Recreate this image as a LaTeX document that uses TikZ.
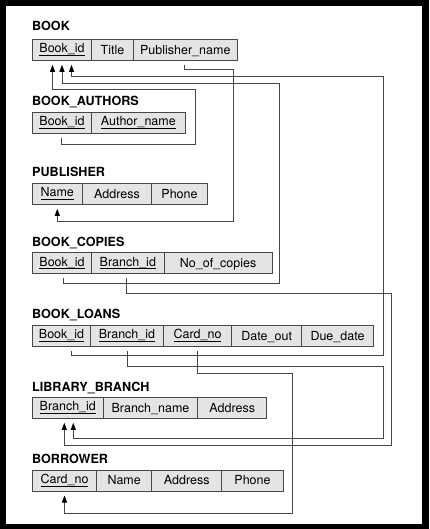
\documentclass[tikz,border=0pt]{standalone}
\usepackage{fontspec}
\setmainfont{TeX Gyre Heros}
\usepackage{tikz}
\usetikzlibrary{positioning,arrows.meta}

\definecolor{cellfill}{HTML}{E4E4E4}
\definecolor{rulegray}{HTML}{474747}

\newcommand{\keyattr}[1]{\raisebox{1.7pt}{\setbox0\hbox{#1}\rlap{\rule[-3pt]{\wd0}{0.6pt}}\box0}}

\tikzset{
  relname/.style={anchor=base west, inner sep=0pt, font=\fontsize{12.6}{15}\selectfont\bfseries},
  attr/.style={draw=rulegray, fill=cellfill, line width=0.8pt, inner sep=0pt, outer sep=0pt,
               minimum height=21pt, text height=8.9pt, text depth=0pt, font=\fontsize{12.5}{15}\selectfont},
  fk/.style={draw=rulegray, line width=0.8pt, shorten <=4.5pt, shorten >=4.5pt,
             -{Triangle[length=7pt,width=5pt,color=black]}}
}

\begin{document}
\begin{tikzpicture}[x=1pt,y=-1pt]
  \fill[black] (0,0) rectangle (429,529);
  \fill[white] (6,6) rectangle (422,524);

  % BOOK
  \node[relname] (bk) at (32,30.7) {BOOK};
  \node[attr, minimum width=59.4pt, anchor=north west] (bk-id) at (32.3,39.3) {\keyattr{Book\_id}};
  \node[attr, minimum width=41.6pt, right=0pt of bk-id] (bk-title) {Title};
  \node[attr, minimum width=104pt, right=0pt of bk-title] (bk-pub) {Publisher\_name};

  % BOOK_AUTHORS
  \node[relname] (ba) at (32,106) {BOOK\_AUTHORS};
  \node[attr, minimum width=59.4pt, anchor=north west] (ba-id) at (32.3,112.3) {\keyattr{Book\_id}};
  \node[attr, minimum width=93.3pt, right=0pt of ba-id] (ba-name) {\keyattr{Author\_name}};

  % PUBLISHER
  \node[relname] (pb) at (32,176.7) {PUBLISHER};
  \node[attr, minimum width=50pt, anchor=north west] (pb-name) at (32.3,183.3) {\keyattr{Name}};
  \node[attr, minimum width=69.4pt, right=0pt of pb-name] (pb-addr) {Address};
  \node[attr, minimum width=55.6pt, right=0pt of pb-addr] (pb-phone) {Phone};

  % BOOK_COPIES
  \node[relname] (bc) at (32,246.7) {BOOK\_COPIES};
  \node[attr, minimum width=59.4pt, anchor=north west] (bc-id) at (32.3,252.8) {\keyattr{Book\_id}};
  \node[attr, minimum width=72.3pt, right=0pt of bc-id] (bc-br) {\keyattr{Branch\_id}};
  \node[attr, minimum width=108.3pt, right=0pt of bc-br] (bc-no) {No\_of\_copies};

  % BOOK_LOANS
  \node[relname] (bl) at (32,318.3) {BOOK\_LOANS};
  \node[attr, minimum width=58.4pt, anchor=north west] (bl-id) at (32.3,325.5) {\keyattr{Book\_id}};
  \node[attr, minimum width=72.6pt, right=0pt of bl-id] (bl-br) {\keyattr{Branch\_id}};
  \node[attr, minimum width=68.4pt, right=0pt of bl-br] (bl-card) {\keyattr{Card\_no}};
  \node[attr, minimum width=70pt, right=0pt of bl-card] (bl-out) {Date\_out};
  \node[attr, minimum width=71.6pt, right=0pt of bl-out] (bl-due) {Due\_date};

  % LIBRARY_BRANCH
  \node[relname] (lb) at (32,391) {LIBRARY\_BRANCH};
  \node[attr, minimum width=71pt, anchor=north west] (lb-id) at (32.3,397.3) {\keyattr{Branch\_id}};
  \node[attr, minimum width=94.4pt, right=0pt of lb-id] (lb-name) {Branch\_name};
  \node[attr, minimum width=69pt, right=0pt of lb-name] (lb-addr) {Address};

  % BORROWER
  \node[relname] (br) at (32,463.3) {BORROWER};
  \node[attr, minimum width=64.4pt, anchor=north west] (br-card) at (32.3,470) {\keyattr{Card\_no}};
  \node[attr, minimum width=55pt, right=0pt of br-card] (br-name) {Name};
  \node[attr, minimum width=70pt, right=0pt of br-name] (br-addr) {Address};
  \node[attr, minimum width=61.6pt, right=0pt of br-addr] (br-phone) {Phone};

  % foreign keys
  \draw[fk] ([xshift=-1pt]ba-id.south) |- (195,144) -- (195,89.3) -| ([xshift=-9.5pt]bk-id.south);
  \draw[fk] ([xshift=1pt]bc-id.south) |- (279,283.3) -- (279,83.3) -| (bk-id.south);
  \draw[fk] ([xshift=10pt]bl-id.south) |- (383,355) -- (383,76.7) -| ([xshift=9.5pt]bk-id.south);
  \draw[fk] ([xshift=-1pt]bk-pub.south) |- (233.3,69.3) -- (233.3,221) -| (pb-name.south);
  \draw[fk] ([xshift=-1pt]bc-br.south) |- (391.7,293.3) -- (391.7,445) -| ([xshift=-3.5pt]lb-id.south);
  \draw[fk] (bl-br.south) |- (383,366.7) -- (383,438.3) -| ([xshift=5.5pt]lb-id.south);
  \draw[fk] (bl-card.south) |- (292.3,373.3) -- (292.3,513.3) -| (br-card.south);
\end{tikzpicture}
\end{document}
